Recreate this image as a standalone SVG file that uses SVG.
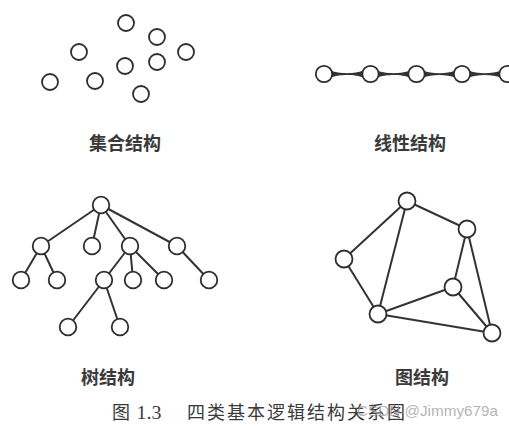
<svg xmlns="http://www.w3.org/2000/svg" width="509" height="427" viewBox="0 0 509 427">
<style>
.n{fill:#fff;stroke:#2e2e2e;stroke-width:1.8}
.e{stroke:#333;stroke-width:2;fill:none;stroke-linecap:round}
.lk{fill:#333;stroke:none}
.lab{font-family:"Noto Sans CJK SC","Noto Sans",sans-serif;font-weight:bold;font-size:18px;fill:#3a3a3a;text-anchor:middle}
.cap{font-family:"Noto Sans CJK SC",sans-serif;font-size:18px;fill:#3a3a3a}
.num{font-family:"Liberation Serif","Noto Sans CJK SC",serif;font-size:19px;fill:#3a3a3a}
.wm{font-family:"Liberation Sans",Arial,sans-serif;font-size:15px;fill:#9a9a9a;fill-opacity:0.75}
</style>
<rect width="509" height="427" fill="#fff"/>

<!-- Set structure -->
<g id="set">
<circle class="n" cx="126" cy="23" r="8"/>
<circle class="n" cx="157" cy="37" r="8"/>
<circle class="n" cx="79" cy="52" r="8"/>
<circle class="n" cx="186" cy="52" r="8"/>
<circle class="n" cx="125" cy="66" r="8"/>
<circle class="n" cx="157" cy="62" r="8"/>
<circle class="n" cx="50" cy="82" r="8"/>
<circle class="n" cx="95" cy="81" r="8"/>
<circle class="n" cx="141" cy="94" r="8"/>
<text class="lab" x="125" y="150">集合结构</text>
</g>

<!-- Linear structure -->
<g id="linear-connectors">
<path class="lk" d="M331,70.5 C338,74 356,74 363,70.5 L363,77.5 C356,74 338,74 331,77.5 Z"/>
<path class="lk" d="M377.5,70.5 C384.5,74 402.5,74 409.5,70.5 L409.5,77.5 C402.5,74 384.5,74 377.5,77.5 Z"/>
<path class="lk" d="M423.5,70.5 C430.5,74 448,74 455,70.5 L455,77.5 C448,74 430.5,74 423.5,77.5 Z"/>
<path class="lk" d="M469,70.5 C476,74 493.5,74 500.5,70.5 L500.5,77.5 C493.5,74 476,74 469,77.5 Z"/>
</g>
<g id="linear">
<circle class="n" cx="324" cy="74" r="8.2"/>
<circle class="n" cx="370.5" cy="74" r="8.2"/>
<circle class="n" cx="416.5" cy="74" r="8.2"/>
<circle class="n" cx="462" cy="74" r="8.2"/>
<circle class="n" cx="507.5" cy="74" r="8.2"/>
<text class="lab" x="410" y="150">线性结构</text>
</g>

<!-- Tree structure -->
<g id="tree-connectors">
<line class="e" x1="101" y1="205" x2="41" y2="246"/>
<line class="e" x1="101" y1="205" x2="92" y2="246"/>
<line class="e" x1="101" y1="205" x2="130" y2="246"/>
<line class="e" x1="101" y1="205" x2="177" y2="246"/>
<line class="e" x1="41" y1="246" x2="21" y2="280"/>
<line class="e" x1="41" y1="246" x2="57" y2="280"/>
<line class="e" x1="130" y1="246" x2="104" y2="280"/>
<line class="e" x1="130" y1="246" x2="133" y2="280"/>
<line class="e" x1="130" y1="246" x2="164" y2="280"/>
<line class="e" x1="177" y1="246" x2="209" y2="280"/>
<line class="e" x1="104" y1="280" x2="68" y2="327"/>
<line class="e" x1="104" y1="280" x2="120" y2="327"/>
</g>
<g id="tree">
<circle class="n" cx="101" cy="205" r="8.3"/>
<circle class="n" cx="41" cy="246" r="8.3"/>
<circle class="n" cx="92" cy="246" r="8.3"/>
<circle class="n" cx="130" cy="246" r="8.3"/>
<circle class="n" cx="177" cy="246" r="8.3"/>
<circle class="n" cx="21" cy="280" r="8.3"/>
<circle class="n" cx="57" cy="280" r="8.3"/>
<circle class="n" cx="104" cy="280" r="8.3"/>
<circle class="n" cx="133" cy="280" r="8.3"/>
<circle class="n" cx="164" cy="280" r="8.3"/>
<circle class="n" cx="209" cy="280" r="8.3"/>
<circle class="n" cx="68" cy="327" r="8.3"/>
<circle class="n" cx="120" cy="327" r="8.3"/>
<text class="lab" x="108" y="384">树结构</text>
</g>

<!-- Graph structure -->
<g id="graph-connectors">
<line class="e" x1="407" y1="201" x2="467" y2="229"/>
<line class="e" x1="407" y1="201" x2="344" y2="259"/>
<line class="e" x1="407" y1="201" x2="378" y2="314"/>
<line class="e" x1="344" y1="259" x2="378" y2="314"/>
<line class="e" x1="467" y1="229" x2="453" y2="287"/>
<line class="e" x1="467" y1="229" x2="492" y2="333"/>
<line class="e" x1="453" y1="287" x2="378" y2="314"/>
<line class="e" x1="453" y1="287" x2="492" y2="333"/>
<line class="e" x1="378" y1="314" x2="492" y2="333"/>
</g>
<g id="graph">
<circle class="n" cx="407" cy="201" r="8.5"/>
<circle class="n" cx="467" cy="229" r="8.5"/>
<circle class="n" cx="344" cy="259" r="8.5"/>
<circle class="n" cx="453" cy="287" r="8.5"/>
<circle class="n" cx="378" cy="314" r="8.5"/>
<circle class="n" cx="492" cy="333" r="8.5"/>
<text class="lab" x="422" y="384">图结构</text>
</g>

<!-- Caption -->
<g id="caption">
<text class="cap" x="112" y="418.5" font-size="15">图</text>
<text class="num" x="136.5" y="419" textLength="25" lengthAdjust="spacingAndGlyphs">1.3</text>
<text class="cap" x="187" y="419" textLength="218" lengthAdjust="spacing">四类基本逻辑结构关系图</text>
<text class="wm" x="357" y="416" textLength="141" lengthAdjust="spacingAndGlyphs">CSDN @Jimmy679a</text>
</g>
</svg>
